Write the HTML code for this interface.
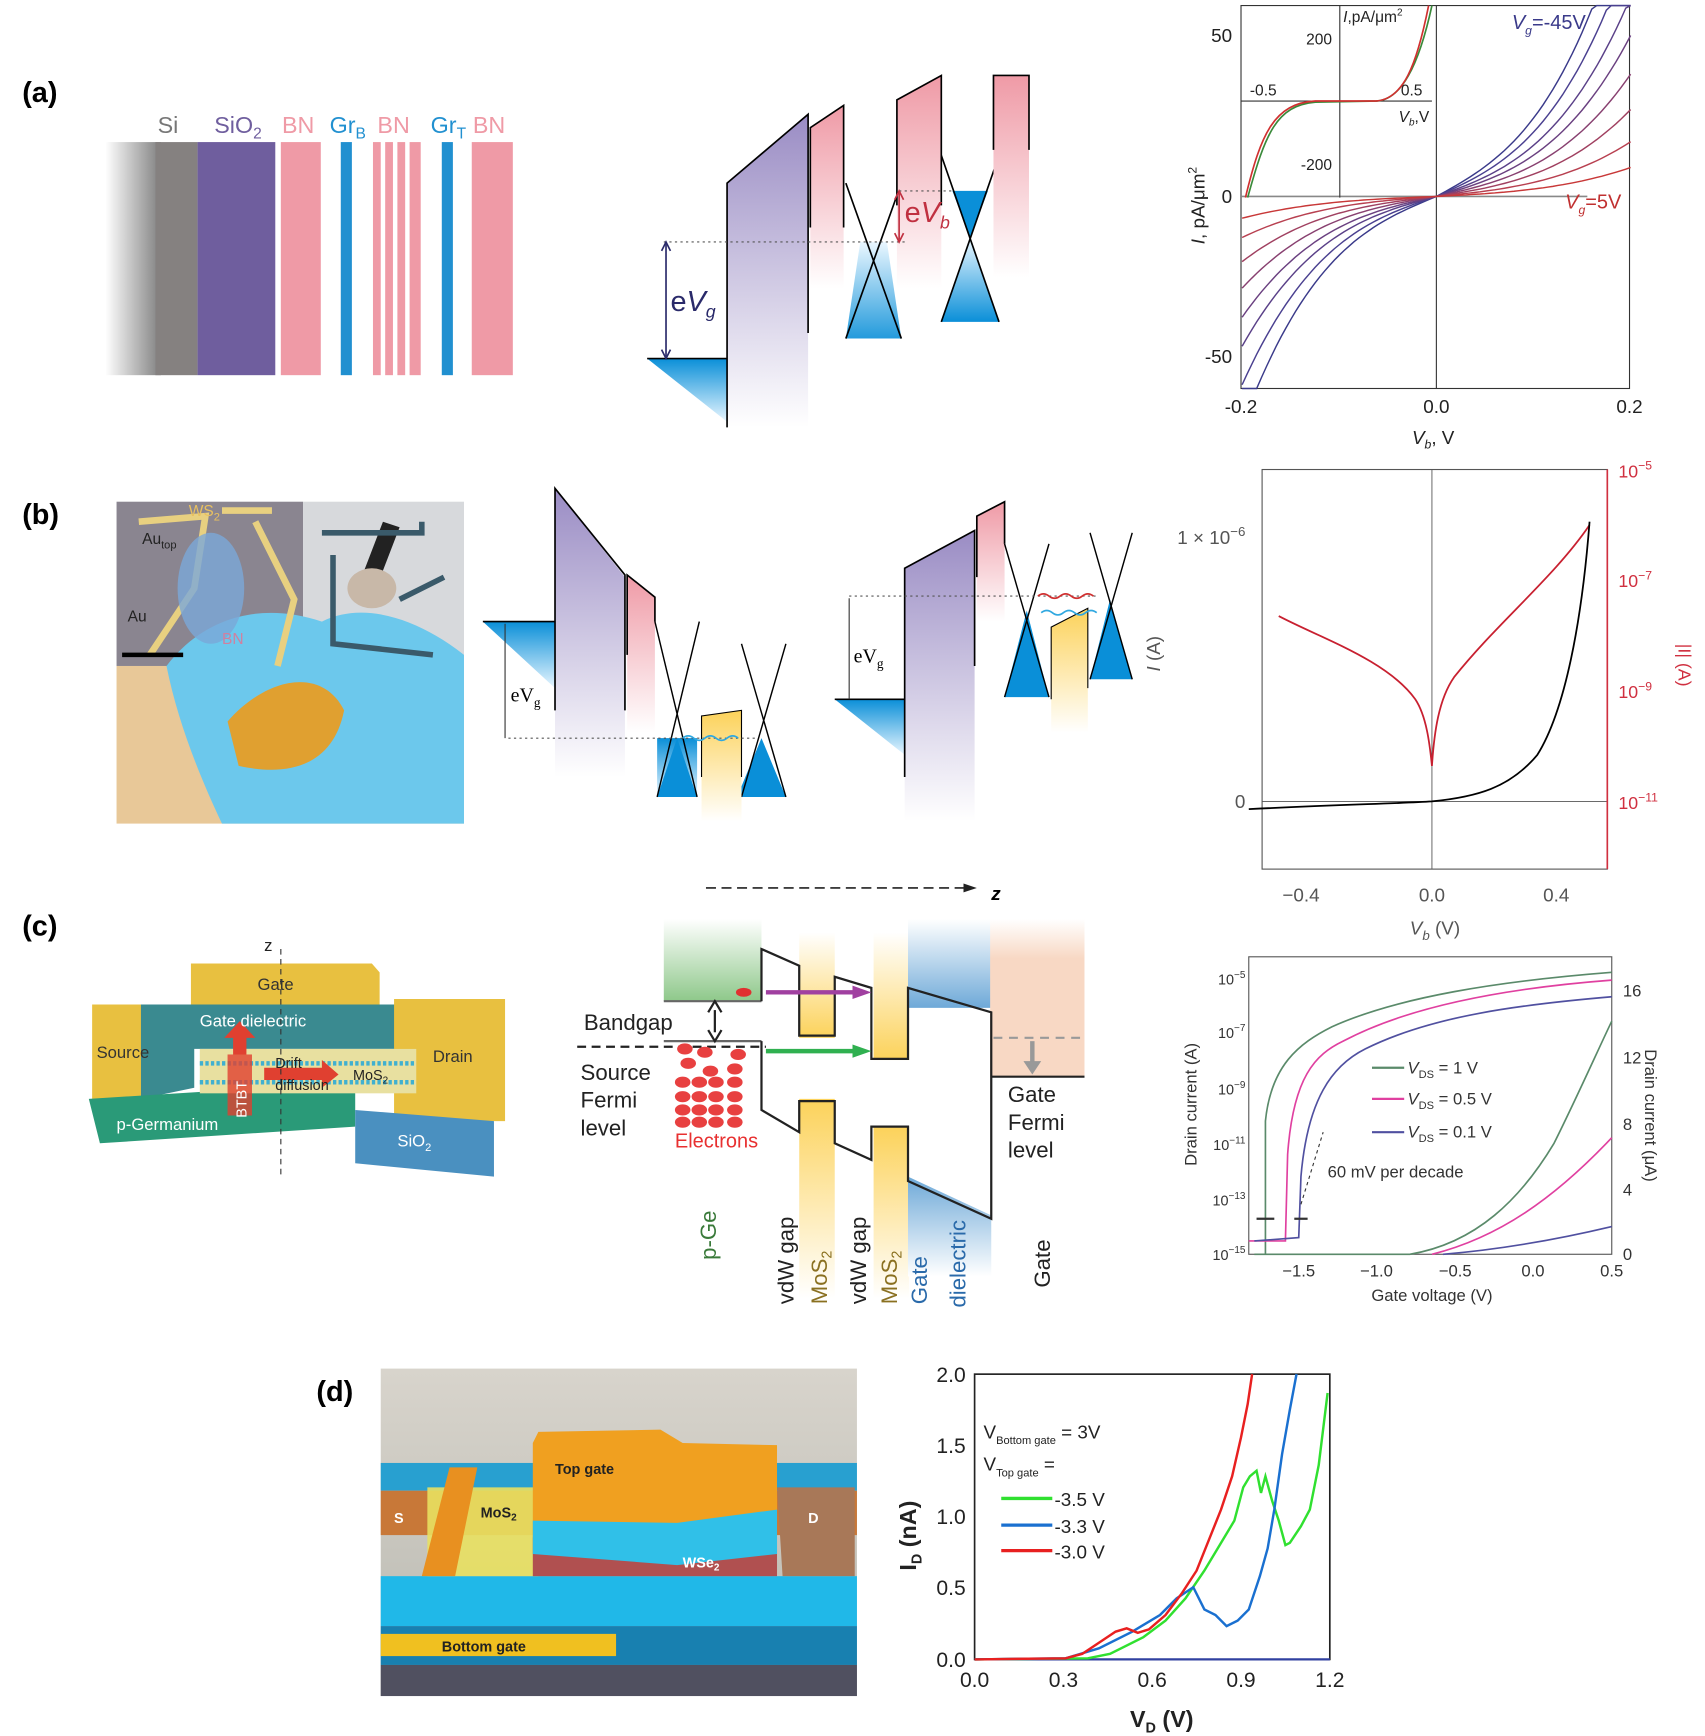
<!DOCTYPE html>
<html><head><meta charset="utf-8"><style>
html,body{margin:0;padding:0;background:#fff;}
svg{display:block;font-family:"Liberation Sans",sans-serif;}
</style></head><body>
<svg id="s" width="1705" height="1736" viewBox="0 0 1536 1564" preserveAspectRatio="none" xmlns="http://www.w3.org/2000/svg">
<defs>
<linearGradient id="pur" x1="0" y1="0" x2="0" y2="1"><stop offset="0" stop-color="#9a8cc4"/><stop offset="1" stop-color="#fff"/></linearGradient>
<linearGradient id="pnk" x1="0" y1="0" x2="0" y2="1"><stop offset="0" stop-color="#ef9aa6"/><stop offset="1" stop-color="#fff"/></linearGradient>
<linearGradient id="blu" x1="0" y1="0" x2="0" y2="1"><stop offset="0" stop-color="#0a8fd8"/><stop offset="1" stop-color="#e8f6ff"/></linearGradient>
<linearGradient id="bluU" x1="0" y1="1" x2="0" y2="0"><stop offset="0" stop-color="#0a8fd8"/><stop offset="1" stop-color="#e8f6ff"/></linearGradient>
<linearGradient id="yel" x1="0" y1="0" x2="0" y2="1"><stop offset="0" stop-color="#fcd25a"/><stop offset="1" stop-color="#fff"/></linearGradient>
<linearGradient id="yelU" x1="0" y1="1" x2="0" y2="0"><stop offset="0" stop-color="#fcd25a"/><stop offset="1" stop-color="#fff"/></linearGradient>
<linearGradient id="grn" x1="0" y1="1" x2="0" y2="0"><stop offset="0" stop-color="#8ec88a"/><stop offset="1" stop-color="#fff"/></linearGradient>
<linearGradient id="gblu" x1="0" y1="1" x2="0" y2="0"><stop offset="0" stop-color="#6ea9d8"/><stop offset="1" stop-color="#fff"/></linearGradient>
<linearGradient id="gbluD" x1="0" y1="0" x2="0" y2="1"><stop offset="0" stop-color="#6ea9d8"/><stop offset="1" stop-color="#fff"/></linearGradient>
<linearGradient id="peach" x1="0" y1="0" x2="0" y2="1"><stop offset="0" stop-color="#fff"/><stop offset="0.25" stop-color="#f8d8c4"/><stop offset="1" stop-color="#f8d8c4"/></linearGradient>
<linearGradient id="si" x1="0" y1="0" x2="1" y2="0"><stop offset="0" stop-color="#fff"/><stop offset="1" stop-color="#808080"/></linearGradient>
<linearGradient id="dev" x1="0" y1="0" x2="0" y2="1"><stop offset="0" stop-color="#d8d4cc"/><stop offset="1" stop-color="#b8b8b0"/></linearGradient>
</defs>

<!-- ============ (a) ============ -->
<text x="20" y="92" font-size="26" font-weight="bold">(a)</text>
<rect x="95" y="128" width="50" height="210" fill="url(#si)"/>
<rect x="140" y="128" width="38" height="210" fill="#858180"/>
<rect x="178" y="128" width="70" height="210" fill="#6f5e9e"/>
<rect x="253" y="128" width="36" height="210" fill="#ef9aa6"/>
<rect x="307" y="128" width="10" height="210" fill="#2190d0"/>
<rect x="336" y="128" width="7" height="210" fill="#ef9aa6"/>
<rect x="347" y="128" width="7" height="210" fill="#ef9aa6"/>
<rect x="358" y="128" width="7" height="210" fill="#ef9aa6"/>
<rect x="369" y="128" width="10" height="210" fill="#ef9aa6"/>
<rect x="398" y="128" width="10" height="210" fill="#2190d0"/>
<rect x="425" y="128" width="37" height="210" fill="#ef9aa6"/>
<g font-size="21">
<text x="142" y="120" fill="#777">Si</text>
<text x="193" y="120" fill="#6f5e9e">SiO<tspan font-size="14" dy="5">2</tspan></text>
<text x="254" y="120" fill="#ef9aa6">BN</text>
<text x="297" y="120" fill="#2190d0">Gr<tspan font-size="14" dy="5">B</tspan></text>
<text x="340" y="120" fill="#ef9aa6">BN</text>
<text x="388" y="120" fill="#2190d0">Gr<tspan font-size="14" dy="5">T</tspan></text>
<text x="426" y="120" fill="#ef9aa6">BN</text>
</g>
<!-- band a -->
<polygon points="583,323 655,323 655,380" fill="url(#blu)"/>
<line x1="583" y1="323" x2="655" y2="323" stroke="#000" stroke-width="1.5"/>
<polygon points="655,165 728,103 728,385 655,385" fill="url(#pur)"/>
<polyline points="655,385 655,165 728,103 728,300" fill="none" stroke="#000" stroke-width="1.5"/>
<polygon points="730,115 760,95 760,260 730,260" fill="url(#pnk)"/>
<polyline points="730,205 730,115 760,95 760,205" fill="none" stroke="#000" stroke-width="1.5"/>
<polygon points="775,218 799,218 812,305 762,305" fill="url(#bluU)" opacity="0.9"/>
<line x1="762" y1="165" x2="812" y2="305" stroke="#000" stroke-width="1.5"/>
<line x1="812" y1="165" x2="762" y2="305" stroke="#000" stroke-width="1.5"/>
<polygon points="808,90 848,68 848,260 808,260" fill="url(#pnk)"/>
<polyline points="808,185 808,90 848,68 848,185" fill="none" stroke="#000" stroke-width="1.5"/>
<polygon points="858,172 890,172 874,215" fill="#0a8fd8"/>
<polygon points="874,215 848,290 900,290" fill="url(#bluU)"/>
<line x1="848" y1="140" x2="900" y2="290" stroke="#000" stroke-width="1.5"/>
<line x1="900" y1="140" x2="848" y2="290" stroke="#000" stroke-width="1.5"/>
<polygon points="895,68 927,68 927,250 895,250" fill="url(#pnk)"/>
<polyline points="895,135 895,68 927,68 927,135" fill="none" stroke="#000" stroke-width="1.5"/>
<line x1="598" y1="218" x2="815" y2="218" stroke="#555" stroke-dasharray="2,3"/>
<line x1="810" y1="172" x2="860" y2="172" stroke="#555" stroke-dasharray="2,3"/>
<line x1="600" y1="220" x2="600" y2="321" stroke="#2a2a6a" stroke-width="1.5"/>
<path d="M596,226 L600,218 L604,226 M596,315 L600,323 L604,315" fill="none" stroke="#2a2a6a" stroke-width="1.5"/>
<text x="604" y="280" font-size="26" fill="#2a2a6a">e<tspan font-style="italic">V</tspan><tspan font-size="16" dy="6" font-style="italic">g</tspan></text>
<line x1="810" y1="174" x2="810" y2="216" stroke="#c03040" stroke-width="1.5"/>
<path d="M806,180 L810,172 L814,180 M806,210 L810,218 L814,210" fill="none" stroke="#c03040" stroke-width="1.5"/>
<text x="815" y="200" font-size="26" fill="#c03040">e<tspan font-style="italic">V</tspan><tspan font-size="16" dy="6" font-style="italic">b</tspan></text>
<!-- plot a -->
<rect x="1118" y="5" width="350" height="345" fill="none" stroke="#333" stroke-width="1"/>
<line x1="1294" y1="5" x2="1294" y2="350" stroke="#333"/>
<line x1="1118" y1="177" x2="1430" y2="177" stroke="#888" stroke-width="1.5"/>
<line x1="1118" y1="91" x2="1290" y2="91" stroke="#333"/>
<line x1="1207" y1="5" x2="1207" y2="178" stroke="#333"/>
<g id="acurves" fill="none" stroke-width="1.3"></g>
<path d="M1124,178 C1140,120 1150,95 1185,92 L1240,91 C1262,90 1278,60 1290,5" fill="none" stroke="#3a8a3a" stroke-width="1.5"/>
<path d="M1122,178 C1136,120 1148,93 1185,91 L1240,91 C1264,89 1276,60 1287,5" fill="none" stroke="#d03030" stroke-width="1.5"/>
<g font-size="17" fill="#222">
<text x="1110" y="38" text-anchor="end">50</text>
<text x="1110" y="183" text-anchor="end">0</text>
<text x="1110" y="327" text-anchor="end">-50</text>
<text x="1118" y="372" text-anchor="middle">-0.2</text>
<text x="1294" y="372" text-anchor="middle">0.0</text>
<text x="1468" y="372" text-anchor="middle">0.2</text>
<text x="1272" y="400" font-style="italic">V<tspan font-size="11" dy="4">b</tspan><tspan dy="-4" font-style="normal">, V</tspan></text>
<text x="1085" y="220" transform="rotate(-90 1085 220)"><tspan font-style="italic">I</tspan>, pA/μm<tspan font-size="11" dy="-7">2</tspan></text>
<text x="1200" y="40" font-size="14" text-anchor="end">200</text>
<text x="1200" y="153" font-size="14" text-anchor="end">-200</text>
<text x="1126" y="86" font-size="14">-0.5</text>
<text x="1262" y="86" font-size="14">0.5</text>
<text x="1210" y="20" font-size="14"><tspan font-style="italic">I</tspan>,pA/μm<tspan font-size="9" dy="-6">2</tspan></text>
<text x="1260" y="110" font-size="14" font-style="italic">V<tspan font-size="9" dy="3">b</tspan><tspan dy="-3" font-style="normal">,V</tspan></text>
<text x="1362" y="26" fill="#3a3a8a" font-size="18" font-style="italic">V<tspan font-size="11" dy="5">g</tspan><tspan dy="-5" font-style="normal">=-45V</tspan></text>
<text x="1410" y="188" fill="#c03030" font-size="18" font-style="italic">V<tspan font-size="11" dy="5">g</tspan><tspan dy="-5" font-style="normal">=5V</tspan></text>
</g>

<!-- ============ (b) ============ -->
<text x="20" y="472" font-size="26" font-weight="bold">(b)</text>
<rect x="105" y="452" width="168" height="148" fill="#8a8590"/>
<rect x="273" y="452" width="145" height="148" fill="#d7d9dc"/>
<rect x="105" y="600" width="313" height="142" fill="#e8c898"/>
<path d="M150,600 C180,560 230,540 290,560 C330,540 380,560 418,590 L418,742 L200,742 C180,700 160,650 150,600 Z" fill="#6cc8ec"/>
<path d="M205,650 C240,610 290,600 310,640 C300,690 260,700 215,690 Z" fill="#e0a030"/>
<path d="M125,470 L185,465 L175,530 L135,590 M200,460 L245,460 M230,470 L265,540 L250,600" fill="none" stroke="#e8d080" stroke-width="6"/>
<ellipse cx="190" cy="530" rx="30" ry="50" fill="#7aa8d8" opacity="0.8"/>
<line x1="110" y1="590" x2="165" y2="590" stroke="#000" stroke-width="4"/>
<path d="M320,535 L345,470 L360,475 L335,540 Z" fill="#222"/>
<ellipse cx="335" cy="530" rx="22" ry="18" fill="#c8b8a8"/>
<path d="M290,480 L380,480 L380,470 M300,500 L300,580 L390,590 M360,540 L400,520" fill="none" stroke="#3a5a6a" stroke-width="5"/>
<g font-size="14">
<text x="128" y="490" fill="#222">Au<tspan font-size="10" dy="4">top</tspan></text>
<text x="115" y="560" fill="#222">Au</text>
<text x="170" y="465" fill="#e8c060">WS<tspan font-size="10" dy="4">2</tspan></text>
<text x="200" y="580" fill="#d080a0">BN</text>
</g>
<!-- band b1 -->
<polygon points="435,560 500,560 500,620" fill="url(#blu)"/>
<line x1="435" y1="560" x2="500" y2="560" stroke="#000" stroke-width="1.5"/>
<polygon points="500,440 563,520 563,700 500,700" fill="url(#pur)"/>
<polyline points="500,640 500,440 563,518 563,640" fill="none" stroke="#000" stroke-width="1.5"/>
<polygon points="565,518 590,538 590,660 565,660" fill="url(#pnk)"/>
<polyline points="565,590 565,518 590,538 590,560" fill="none" stroke="#000" stroke-width="1.5"/>
<polygon points="592,665 628,665 628,718 592,718" fill="url(#blu)" transform=""/>
<polygon points="610,665 628,718 592,718" fill="#0a8fd8"/>
<polygon points="686,665 708,718 664,718" fill="#0a8fd8"/>
<line x1="590" y1="560" x2="628" y2="718" stroke="#000" stroke-width="1.3"/>
<line x1="630" y1="560" x2="592" y2="718" stroke="#000" stroke-width="1.3"/>
<line x1="668" y1="580" x2="708" y2="718" stroke="#000" stroke-width="1.3"/>
<line x1="708" y1="580" x2="668" y2="718" stroke="#000" stroke-width="1.3"/>
<polygon points="632,645 668,640 668,740 632,740" fill="url(#yel)"/>
<polyline points="632,700 632,645 668,640 668,700" fill="none" stroke="#000" stroke-width="1"/>
<line x1="458" y1="665" x2="680" y2="665" stroke="#555" stroke-dasharray="2,3"/>
<line x1="455" y1="562" x2="455" y2="665" stroke="#333"/>
<path d="M615,665 q5,-4 10,0 t10,0 t10,0 t10,0 t10,0" fill="none" stroke="#30a8e0" stroke-width="1.5"/>
<text x="460" y="632" font-size="18" font-family="Liberation Serif">eV<tspan font-size="12" dy="5">g</tspan></text>
<!-- band b2 -->
<polygon points="752,630 815,630 815,680" fill="url(#blu)"/>
<line x1="752" y1="630" x2="815" y2="630" stroke="#000" stroke-width="1.5"/>
<polygon points="815,512 878,478 878,740 815,740" fill="url(#pur)"/>
<polyline points="815,700 815,512 878,478 878,600" fill="none" stroke="#000" stroke-width="1.5"/>
<polygon points="880,465 905,452 905,560 880,560" fill="url(#pnk)"/>
<polyline points="880,520 880,465 905,452 905,490" fill="none" stroke="#000" stroke-width="1.5"/>
<polygon points="925,550 905,628 945,628" fill="#0a8fd8"/>
<polygon points="1000,540 982,612 1020,612" fill="#0a8fd8"/>
<line x1="905" y1="490" x2="945" y2="628" stroke="#000" stroke-width="1.3"/>
<line x1="945" y1="490" x2="905" y2="628" stroke="#000" stroke-width="1.3"/>
<line x1="982" y1="480" x2="1020" y2="612" stroke="#000" stroke-width="1.3"/>
<line x1="1020" y1="480" x2="982" y2="612" stroke="#000" stroke-width="1.3"/>
<polygon points="947,565 980,548 980,660 947,660" fill="url(#yel)"/>
<polyline points="947,630 947,565 980,548 980,620" fill="none" stroke="#000" stroke-width="1"/>
<line x1="765" y1="537" x2="990" y2="537" stroke="#555" stroke-dasharray="2,3"/>
<line x1="765" y1="539" x2="765" y2="630" stroke="#333"/>
<path d="M935,537 q5,-4 10,0 t10,0 t10,0 t10,0 t10,0" fill="none" stroke="#d03030" stroke-width="1.5"/>
<path d="M938,552 q5,-4 10,0 t10,0 t10,0 t10,0 t10,0" fill="none" stroke="#30a8e0" stroke-width="1.5"/>
<text x="769" y="597" font-size="18" font-family="Liberation Serif">eV<tspan font-size="12" dy="5">g</tspan></text>
<!-- plot b -->
<rect x="1137" y="423" width="311" height="360" fill="none" stroke="#555"/>
<line x1="1290" y1="423" x2="1290" y2="783" stroke="#555" stroke-width="0.8"/>
<line x1="1137" y1="722" x2="1448" y2="722" stroke="#555" stroke-width="0.8"/>
<line x1="1448" y1="423" x2="1448" y2="783" stroke="#d03040" stroke-width="1.5"/>
<path d="M1152,555 C1190,575 1250,595 1275,630 C1285,645 1288,670 1290,690 C1292,660 1296,630 1310,610 C1350,560 1400,520 1432,473" fill="none" stroke="#c82030" stroke-width="1.6"/>
<path d="M1125,729 C1200,725 1260,724 1290,722 C1330,718 1360,710 1385,680 C1410,640 1425,560 1432,470" fill="none" stroke="#000" stroke-width="1.6"/>
<g font-size="17" fill="#555">
<text x="1172" y="812" text-anchor="middle">−0.4</text>
<text x="1290" y="812" text-anchor="middle">0.0</text>
<text x="1402" y="812" text-anchor="middle">0.4</text>
<text x="1270" y="842" font-style="italic">V<tspan font-size="12" dy="5">b</tspan><tspan dy="-5" font-style="normal"> (V)</tspan></text>
<text x="1122" y="728" text-anchor="end">0</text>
<text x="1122" y="490" text-anchor="end">1 × 10<tspan font-size="12" dy="-7">−6</tspan></text>
<text x="1045" y="605" transform="rotate(-90 1045 605)" font-style="italic">I<tspan font-style="normal"> (A)</tspan></text>
</g>
<g font-size="16" fill="#d03040">
<text x="1458" y="430">10<tspan font-size="11" dy="-7">−5</tspan></text>
<text x="1458" y="529">10<tspan font-size="11" dy="-7">−7</tspan></text>
<text x="1458" y="629">10<tspan font-size="11" dy="-7">−9</tspan></text>
<text x="1458" y="729">10<tspan font-size="11" dy="-7">−11</tspan></text>
<text x="1512" y="580" transform="rotate(90 1512 580)">|I| (A)</text>
</g>

<!-- ============ (c) ============ -->
<text x="20" y="843" font-size="26" font-weight="bold">(c)</text>
<polygon points="83,905 130,905 130,1000 83,1000" fill="#e8c040"/>
<polygon points="172,868 335,868 342,876 342,905 172,905" fill="#e8c040"/>
<polygon points="127,905 360,905 360,945 127,945" fill="#3a8a90"/>
<polygon points="127,905 175,905 175,980 127,990" fill="#3a8a90"/>
<polygon points="355,900 455,900 455,1010 355,1010" fill="#e8c040"/>
<polygon points="80,990 320,975 320,1015 90,1030" fill="#2a9a78"/>
<polygon points="320,1000 445,1010 445,1060 320,1048" fill="#4a90c0"/>
<rect x="180" y="945" width="195" height="40" fill="#e8e0a0"/>
<line x1="180" y1="958" x2="375" y2="958" stroke="#40b0d0" stroke-width="4" stroke-dasharray="3,2"/>
<line x1="180" y1="975" x2="375" y2="975" stroke="#40b0d0" stroke-width="4" stroke-dasharray="3,2"/>
<polygon points="210,950 222,950 222,935 230,935 216,920 202,935 210,935" fill="#e04030"/>
<rect x="205" y="950" width="22" height="55" fill="#e04030" opacity="0.8"/>
<polygon points="238,962 290,962 290,955 305,968 290,980 290,973 238,973" fill="#e04030"/>
<line x1="253" y1="855" x2="253" y2="1060" stroke="#333" stroke-dasharray="5,4"/>
<g font-size="15">
<text x="238" y="857" fill="#222">z</text>
<text x="232" y="892" fill="#333">Gate</text>
<text x="180" y="925" fill="#fff">Gate dielectric</text>
<text x="87" y="953" fill="#333">Source</text>
<text x="390" y="957" fill="#333">Drain</text>
<text x="248" y="962" fill="#222" font-size="13">Drift</text>
<text x="248" y="982" fill="#222" font-size="13">diffusion</text>
<text x="318" y="973" fill="#222" font-size="13">MoS<tspan font-size="9" dy="3">2</tspan></text>
<text x="105" y="1018" fill="#fff">p-Germanium</text>
<text x="358" y="1033" fill="#fff">SiO<tspan font-size="10" dy="4">2</tspan></text>
<text x="222" y="1007" fill="#fff" font-size="13" transform="rotate(-90 222 1007)">BTBT</text>
</g>
<!-- band c -->
<line x1="636" y1="800" x2="870" y2="800" stroke="#222" stroke-width="1.5" stroke-dasharray="9,5"/>
<path d="M868,796 L880,800 L868,804" fill="#222"/>
<text x="893" y="811" font-size="17" font-style="italic" font-weight="bold">z</text>
<rect x="598" y="828" width="88" height="74" fill="url(#grn)"/>
<line x1="598" y1="902" x2="686" y2="902" stroke="#666" stroke-width="2"/>
<line x1="598" y1="938" x2="686" y2="938" stroke="#666" stroke-width="2"/>
<rect x="720" y="840" width="32" height="95" fill="url(#yelU)"/>
<rect x="720" y="990" width="32" height="180" fill="url(#yel)"/>
<rect x="787" y="840" width="32" height="115" fill="url(#yelU)"/>
<rect x="787" y="1015" width="32" height="155" fill="url(#yel)"/>
<rect x="818" y="828" width="75" height="80" fill="url(#gblu)"/>
<polygon points="818,1060 893,1095 893,1150 818,1150" fill="url(#gbluD)"/>
<rect x="892" y="828" width="85" height="142" fill="url(#peach)"/>
<polyline points="686,902 686,855 720,870 720,933 752,933 752,880 785,890 785,954 818,954 818,890 893,912 893,1098 818,1064 818,1015 785,1015 785,1045 752,1030 752,992 720,992 720,1020 686,1000 686,938" fill="none" stroke="#222" stroke-width="2"/>
<line x1="893" y1="970" x2="977" y2="970" stroke="#222" stroke-width="2"/>
<line x1="895" y1="935" x2="977" y2="935" stroke="#999" stroke-width="2" stroke-dasharray="8,6"/>
<line x1="930" y1="938" x2="930" y2="960" stroke="#999" stroke-width="4"/>
<path d="M922,956 L930,968 L938,956 Z" fill="#999"/>
<line x1="520" y1="943" x2="690" y2="943" stroke="#222" stroke-width="2" stroke-dasharray="8,5"/>
<line x1="644" y1="910" x2="644" y2="930" stroke="#222" stroke-width="2"/>
<path d="M638,912 L644,902 L650,912 M638,928 L644,938 L650,928" fill="none" stroke="#222" stroke-width="2"/>
<line x1="690" y1="894" x2="770" y2="894" stroke="#a040a0" stroke-width="4"/>
<path d="M768,888 L785,894 L768,900 Z" fill="#a040a0"/>
<line x1="690" y1="947" x2="770" y2="947" stroke="#30b050" stroke-width="4"/>
<path d="M768,941 L785,947 L768,953 Z" fill="#30b050"/>
<ellipse cx="670" cy="894" rx="7" ry="4" fill="#e03030"/>
<g fill="#e84040">
<ellipse cx="617" cy="945" rx="7" ry="5"/><ellipse cx="635" cy="948" rx="7" ry="5"/><ellipse cx="665" cy="950" rx="7" ry="5"/>
<ellipse cx="620" cy="958" rx="7" ry="5"/><ellipse cx="640" cy="965" rx="7" ry="5"/><ellipse cx="662" cy="963" rx="7" ry="5"/>
<ellipse cx="615" cy="975" rx="7" ry="5"/><ellipse cx="630" cy="975" rx="7" ry="5"/><ellipse cx="645" cy="975" rx="7" ry="5"/><ellipse cx="662" cy="975" rx="7" ry="5"/>
<ellipse cx="615" cy="988" rx="7" ry="5"/><ellipse cx="630" cy="988" rx="7" ry="5"/><ellipse cx="645" cy="988" rx="7" ry="5"/><ellipse cx="662" cy="988" rx="7" ry="5"/>
<ellipse cx="615" cy="1000" rx="7" ry="5"/><ellipse cx="630" cy="1000" rx="7" ry="5"/><ellipse cx="645" cy="1000" rx="7" ry="5"/><ellipse cx="662" cy="1000" rx="7" ry="5"/>
<ellipse cx="615" cy="1011" rx="7" ry="5"/><ellipse cx="630" cy="1011" rx="7" ry="5"/><ellipse cx="645" cy="1011" rx="7" ry="5"/><ellipse cx="662" cy="1011" rx="7" ry="5"/>
</g>
<g font-size="20" fill="#222">
<text x="526" y="928">Bandgap</text>
<text x="523" y="973">Source</text>
<text x="523" y="998">Fermi</text>
<text x="523" y="1023">level</text>
<text x="608" y="1034" fill="#e83030" font-size="18">Electrons</text>
<text x="908" y="993">Gate</text>
<text x="908" y="1018">Fermi</text>
<text x="908" y="1043">level</text>
</g>
<g font-size="20">
<text transform="translate(645,1135) rotate(-90)" fill="#3a7a3a">p-Ge</text>
<text transform="translate(715,1175) rotate(-90)" fill="#222">vdW gap</text>
<text transform="translate(745,1175) rotate(-90)" fill="#8a7020">MoS<tspan font-size="13" dy="4">2</tspan></text>
<text transform="translate(780,1175) rotate(-90)" fill="#222">vdW gap</text>
<text transform="translate(808,1175) rotate(-90)" fill="#8a7020">MoS<tspan font-size="13" dy="4">2</tspan></text>
<text transform="translate(835,1175) rotate(-90)" fill="#2a6aaa">Gate</text>
<text transform="translate(870,1178) rotate(-90)" fill="#2a6aaa">dielectric</text>
<text transform="translate(946,1160) rotate(-90)" fill="#222">Gate</text>
</g>
<!-- plot c -->
<rect x="1125" y="862" width="327" height="268" fill="none" stroke="#555"/>
<path d="M1140,1130 L1140,1010 C1145,960 1170,940 1200,925 C1260,898 1350,884 1452,876" fill="none" stroke="#5a8a6a" stroke-width="1.5"/>
<path d="M1125,1118 L1158,1118 L1160,1040 C1165,970 1185,950 1210,938 C1270,906 1360,890 1452,883" fill="none" stroke="#e040a0" stroke-width="1.5"/>
<path d="M1130,1118 L1170,1115 L1172,1060 C1178,990 1200,960 1230,945 C1290,915 1370,905 1452,898" fill="none" stroke="#5050a0" stroke-width="1.5"/>
<path d="M1130,1130 L1270,1130 C1330,1120 1370,1080 1400,1030 C1420,990 1440,945 1452,920" fill="none" stroke="#5a8a6a" stroke-width="1.5"/>
<path d="M1290,1130 C1350,1115 1400,1080 1452,1025" fill="none" stroke="#e040a0" stroke-width="1.5"/>
<path d="M1300,1130 C1360,1125 1410,1115 1452,1105" fill="none" stroke="#5050a0" stroke-width="1.5"/>
<line x1="1132" y1="1098" x2="1148" y2="1098" stroke="#333" stroke-width="2"/>
<line x1="1166" y1="1098" x2="1178" y2="1098" stroke="#333" stroke-width="2"/>
<line x1="1172" y1="1085" x2="1192" y2="1020" stroke="#333" stroke-dasharray="3,3"/>
<line x1="1236" y1="962" x2="1265" y2="962" stroke="#5a8a6a" stroke-width="2"/>
<line x1="1236" y1="990" x2="1265" y2="990" stroke="#e040a0" stroke-width="2"/>
<line x1="1236" y1="1020" x2="1265" y2="1020" stroke="#5050a0" stroke-width="2"/>
<g font-size="15" fill="#333">
<text x="1268" y="967"><tspan font-style="italic">V</tspan><tspan font-size="10" dy="4">DS</tspan><tspan dy="-4">  = 1 V</tspan></text>
<text x="1268" y="995"><tspan font-style="italic">V</tspan><tspan font-size="10" dy="4">DS</tspan><tspan dy="-4"> = 0.5 V</tspan></text>
<text x="1268" y="1025"><tspan font-style="italic">V</tspan><tspan font-size="10" dy="4">DS</tspan><tspan dy="-4"> = 0.1 V</tspan></text>
<text x="1196" y="1061">60 mV per decade</text>
<text x="1170" y="1150" text-anchor="middle">−1.5</text>
<text x="1240" y="1150" text-anchor="middle">−1.0</text>
<text x="1311" y="1150" text-anchor="middle">−0.5</text>
<text x="1381" y="1150" text-anchor="middle">0.0</text>
<text x="1452" y="1150" text-anchor="middle">0.5</text>
<text x="1290" y="1172" text-anchor="middle">Gate voltage (V)</text>
<text x="1078" y="995" text-anchor="middle" transform="rotate(-90 1078 995)">Drain current (A)</text>
<text x="1482" y="1005" text-anchor="middle" transform="rotate(90 1482 1005)">Drain current (μA)</text>
<text x="1462" y="898">16</text><text x="1462" y="958">12</text><text x="1462" y="1018">8</text><text x="1462" y="1077">4</text><text x="1462" y="1135">0</text>
</g>
<g font-size="13" fill="#333" text-anchor="end">
<text x="1122" y="887">10<tspan font-size="9" dy="-6">−5</tspan></text>
<text x="1122" y="935">10<tspan font-size="9" dy="-6">−7</tspan></text>
<text x="1122" y="986">10<tspan font-size="9" dy="-6">−9</tspan></text>
<text x="1122" y="1036">10<tspan font-size="9" dy="-6">−11</tspan></text>
<text x="1122" y="1086">10<tspan font-size="9" dy="-6">−13</tspan></text>
<text x="1122" y="1135">10<tspan font-size="9" dy="-6">−15</tspan></text>
</g>

<!-- ============ (d) ============ -->
<text x="285" y="1262" font-size="26" font-weight="bold">(d)</text>
<rect x="343" y="1233" width="429" height="295" fill="url(#dev)"/>
<rect x="343" y="1318" width="429" height="25" fill="#28a0d0"/>
<rect x="343" y="1343" width="429" height="40" fill="#c87838"/>
<rect x="343" y="1420" width="429" height="45" fill="#20b8e8"/>
<rect x="343" y="1465" width="429" height="35" fill="#1880b0"/>
<rect x="343" y="1500" width="429" height="28" fill="#505060"/>
<rect x="343" y="1472" width="212" height="20" fill="#f0c020"/>
<rect x="385" y="1340" width="100" height="80" fill="#e8e060" opacity="0.9"/>
<polygon points="380,1420 405,1322 430,1322 410,1420" fill="#e89020"/>
<rect x="480" y="1385" width="220" height="35" fill="#b05050"/>
<polygon points="485,1290 595,1288 615,1300 700,1302 700,1370 610,1385 480,1385 480,1300" fill="#f0a020"/>
<polygon points="480,1370 610,1372 700,1360 700,1400 610,1410 480,1400" fill="#30c0e8"/>
<polygon points="700,1340 770,1340 770,1420 705,1420" fill="#a87858"/>
<g font-size="13" font-weight="bold">
<text x="500" y="1328" fill="#222">Top gate</text>
<text x="433" y="1367" fill="#222">MoS<tspan font-size="9" dy="3">2</tspan></text>
<text x="615" y="1412" fill="#fff">WSe<tspan font-size="9" dy="3">2</tspan></text>
<text x="355" y="1372" fill="#fff">S</text>
<text x="728" y="1372" fill="#fff">D</text>
<text x="398" y="1488" fill="#222">Bottom gate</text>
</g>
<!-- plot d -->
<rect x="878" y="1238" width="320" height="257" fill="none" stroke="#222" stroke-width="1.5"/>
<line x1="878" y1="1495" x2="1198" y2="1495" stroke="#3040a0" stroke-width="2"/>
<path id="gd" fill="none" stroke="#30e030" stroke-width="2.2" d="M878,1495 L980,1494 L1000,1490 L1030,1475 L1050,1460 L1068,1440 L1085,1415 L1100,1390 L1112,1370 L1120,1340 L1126,1330 L1132,1325 L1136,1345 L1140,1330 L1146,1352 L1152,1370 L1158,1392 L1162,1390 L1172,1375 L1180,1360 L1188,1320 L1196,1255"/>
<path fill="none" stroke="#1a70d0" stroke-width="2.2" d="M878,1495 L960,1494 L990,1485 L1020,1470 L1045,1455 L1060,1440 L1075,1430 L1085,1450 L1095,1455 L1105,1465 L1115,1460 L1125,1450 L1135,1420 L1142,1395 L1148,1360 L1155,1310 L1162,1270 L1168,1238"/>
<path fill="none" stroke="#e82020" stroke-width="2.2" d="M878,1495 L960,1494 L975,1490 L990,1480 L1005,1470 L1015,1467 L1025,1471 L1035,1468 L1050,1455 L1065,1435 L1078,1415 L1090,1385 L1100,1360 L1110,1330 L1118,1295 L1124,1265 L1128,1238"/>
<g font-size="19" fill="#222">
<text x="870" y="1502" text-anchor="end">0.0</text>
<text x="870" y="1437" text-anchor="end">0.5</text>
<text x="870" y="1373" text-anchor="end">1.0</text>
<text x="870" y="1309" text-anchor="end">1.5</text>
<text x="870" y="1245" text-anchor="end">2.0</text>
<text x="878" y="1520" text-anchor="middle">0.0</text>
<text x="958" y="1520" text-anchor="middle">0.3</text>
<text x="1038" y="1520" text-anchor="middle">0.6</text>
<text x="1118" y="1520" text-anchor="middle">0.9</text>
<text x="1198" y="1520" text-anchor="middle">1.2</text>
<text x="1018" y="1556" font-weight="bold" font-size="21">V<tspan font-size="13" dy="5">D</tspan><tspan dy="-5"> (V)</tspan></text>
<text x="825" y="1415" font-weight="bold" font-size="21" transform="rotate(-90 825 1415)">I<tspan font-size="13" dy="5">D</tspan><tspan dy="-5"> (nA)</tspan></text>
<text x="886" y="1296" font-size="17">V<tspan font-size="10" dy="5">Bottom gate</tspan><tspan dy="-5"> = 3V</tspan></text>
<text x="886" y="1325" font-size="17">V<tspan font-size="10" dy="5">Top gate</tspan><tspan dy="-5"> =</tspan></text>
<text x="950" y="1357" font-size="17">-3.5 V</text>
<text x="950" y="1381" font-size="17">-3.3 V</text>
<text x="950" y="1404" font-size="17">-3.0 V</text>
</g>
<line x1="902" y1="1350" x2="948" y2="1350" stroke="#30e030" stroke-width="3"/>
<line x1="902" y1="1374" x2="948" y2="1374" stroke="#1a70d0" stroke-width="3"/>
<line x1="902" y1="1397" x2="948" y2="1397" stroke="#e82020" stroke-width="3"/>
</svg>
<script>
(function(){
var g=document.getElementById('acurves');
var A=[95,78,62,50,38,27,17,9];
var cols=['#3a3a8a','#4a4090','#5a4088','#6a4080','#884070','#a04060','#b84050','#c83838'];
for(var k=0;k<A.length;k++){
 var d='';
 for(var i=0;i<=80;i++){
  var V=-0.2+0.4*i/80,u=V/0.2;
  var I=A[k]*(0.35*u+0.65*u*u*u)*(u<0?0.75:1);
  var x=1294+V*875,y=177-I*2.9;
  if(y<5)y=5; if(y>350)y=350;
  d+=(i?'L':'M')+x.toFixed(1)+','+y.toFixed(1);
 }
 var p=document.createElementNS('http://www.w3.org/2000/svg','path');
 p.setAttribute('d',d);p.setAttribute('stroke',cols[k]);
 g.appendChild(p);
}
})();
</script>
</body></html>
